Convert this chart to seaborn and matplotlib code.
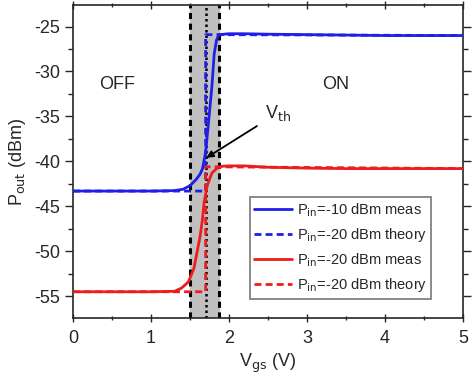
import matplotlib
matplotlib.use("Agg")
import matplotlib.pyplot as plt
from matplotlib.ticker import MultipleLocator
import seaborn as sns
import pandas as pd
import numpy as np

vgs_meas = [0, 0.5, 1.0, 1.3, 1.41, 1.5, 1.58, 1.63, 1.66, 1.70, 1.74, 1.78, 1.81, 1.84, 1.87,
            2.0, 2.2, 2.5, 3.0, 3.5, 4.0, 4.5, 5.0]
p10_meas = [-43.3, -43.3, -43.3, -43.25, -43.1, -42.7, -42.0, -41.4, -40.8, -39.0, -35.4,
            -31.7, -28.0, -26.5, -25.9, -25.8, -25.8, -25.85, -25.9, -25.95, -26.0, -26.0, -26.0]
vgs_meas2 = [0, 0.5, 1.0, 1.3, 1.39, 1.48, 1.55, 1.59, 1.63, 1.66, 1.68, 1.72, 1.78, 1.84, 1.9,
             2.0, 2.2, 2.5, 3.0, 3.5, 4.0, 4.5, 5.0]
p20_meas = [-54.5, -54.5, -54.5, -54.45, -54.1, -53.4, -51.9, -50.1, -48.3, -46.4, -44.6,
            -42.7, -41.3, -40.8, -40.55, -40.5, -40.5, -40.65, -40.75, -40.8, -40.8, -40.8, -40.8]

# theory (ideal switch)
vgs_theory = [0, 1.7, 1.7, 1.8, 5.0]
p10_theory = [-43.3, -43.3, -25.9, -25.9, -26.0]
p20_theory = [-54.5, -54.5, -40.6, -40.6, -40.8]

v_low, v_high, v_th = 1.50, 1.875, 1.71

sns.set_style("ticks")
plt.rcParams["font.family"] = ["Liberation Sans", "DejaVu Sans"]
plt.rcParams["axes.unicode_minus"] = False
plt.rcParams["xtick.direction"] = "inout"
plt.rcParams["ytick.direction"] = "out"

fig = plt.figure(figsize=(4.74, 3.82), dpi=100)
ax = fig.add_axes([0.154, 0.168, 0.823, 0.819])

ax.axvspan(v_low, v_high, color="#c0c0c0", zorder=0)
ax.axvline(v_low, color="black", ls=(0, (2, 1.5)), lw=2.2, zorder=1)
ax.axvline(v_high, color="black", ls=(0, (2, 1.5)), lw=2.2, zorder=1)
ax.axvline(v_th, color="black", ls=(0, (1, 1.2)), lw=1.8, zorder=1)

meas10 = pd.DataFrame({"vgs": vgs_meas, "p": p10_meas})
meas20 = pd.DataFrame({"vgs": vgs_meas2, "p": p20_meas})
theory = pd.DataFrame({"vgs": vgs_theory, "p10": p10_theory, "p20": p20_theory})

opts = dict(sort=False, estimator=None, ax=ax)
sns.lineplot(data=meas10, x="vgs", y="p", color="#1f1fe6", lw=2,
             label="P$_{\\rm in}$=-10 dBm meas", zorder=4, **opts)
sns.lineplot(data=theory, x="vgs", y="p10", color="#1f1fe6", lw=2, ls=(0, (2.5, 1.5)),
             label="P$_{\\rm in}$=-20 dBm theory", zorder=3, **opts)
sns.lineplot(data=meas20, x="vgs", y="p", color="#ee1c1c", lw=2,
             label="P$_{\\rm in}$=-20 dBm meas", zorder=4, **opts)
sns.lineplot(data=theory, x="vgs", y="p20", color="#ee1c1c", lw=2, ls=(0, (2.5, 1.5)),
             label="P$_{\\rm in}$=-20 dBm theory", zorder=3, **opts)

ax.set_xlim(0, 5)
ax.set_ylim(-57.4, -22.6)
ax.xaxis.set_major_locator(MultipleLocator(1))
ax.xaxis.set_minor_locator(MultipleLocator(0.5))
ax.yaxis.set_major_locator(MultipleLocator(5))
ax.yaxis.set_minor_locator(MultipleLocator(2.5))
ax.tick_params(which="both", top=True, right=True, labelsize=13, width=1)
ax.tick_params(which="major", length=6)
ax.tick_params(which="minor", length=3.5)
ax.tick_params(axis="x", which="major", pad=6)
for s in ax.spines.values():
    s.set_linewidth(1.2)

ax.set_xlabel("V$_{\\rm gs}$ (V)", fontsize=13, labelpad=3)
ax.set_ylabel("P$_{\\rm out}$ (dBm)", fontsize=13, labelpad=4)

ax.text(0.57, -31.5, "OFF", fontsize=13, ha="center", va="center")
ax.text(3.37, -31.5, "ON", fontsize=13, ha="center", va="center")
ax.annotate("V$_{\\rm th}$", xy=(1.71, -39.6), xytext=(2.46, -34.6), fontsize=13,
            ha="left", va="center",
            arrowprops=dict(arrowstyle="-|>", color="black", lw=1.3,
                            shrinkA=4, shrinkB=0, mutation_scale=10))

leg = ax.legend(loc="lower right", bbox_to_anchor=(0.918, 0.061), fontsize=10.5,
                frameon=True, fancybox=False, edgecolor="#555555",
                handlelength=2.6, handletextpad=0.3, borderpad=0.3,
                labelspacing=0.5, borderaxespad=0)
leg.get_frame().set_linewidth(1.2)

fig.savefig("out.png", dpi=100)
